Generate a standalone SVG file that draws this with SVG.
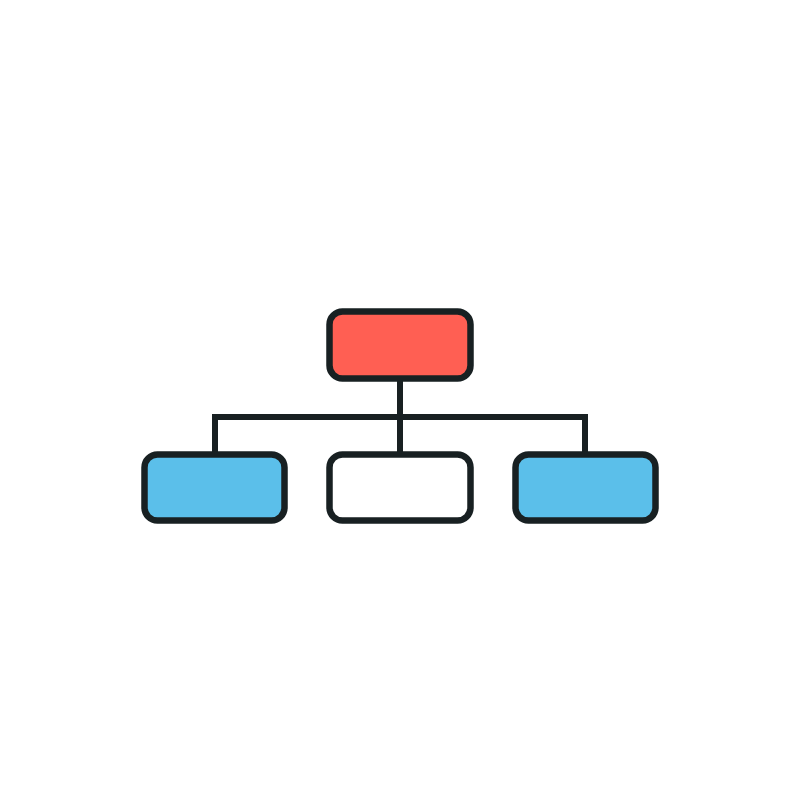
<svg xmlns="http://www.w3.org/2000/svg" width="800" height="800" viewBox="0 0 800 800">
<style>
.box{stroke:#182022;stroke-width:6.5;stroke-linejoin:round}
.red{fill:#FF5F53}
.blue{fill:#5BBFEA}
.white{fill:#FFFFFF}
.conn{fill:none;stroke:#182022;stroke-width:6;stroke-linejoin:miter;stroke-linecap:butt}
</style>
<rect width="800" height="800" fill="#FFFFFF"/>
<g id="connectors">
<path class="conn" d="M400 379 V454"/>
<path class="conn" d="M215 454 V417 H585 V454"/>
</g>
<g id="root"><rect class="box red" x="329.5" y="311.5" width="141" height="67" rx="13"/></g>
<g id="child-left"><rect class="box blue" x="144.5" y="454.5" width="140" height="66" rx="13"/></g>
<g id="child-middle"><rect class="box white" x="329.5" y="454.5" width="141" height="66" rx="13"/></g>
<g id="child-right"><rect class="box blue" x="515.5" y="454.5" width="140" height="66" rx="13"/></g>
</svg>
